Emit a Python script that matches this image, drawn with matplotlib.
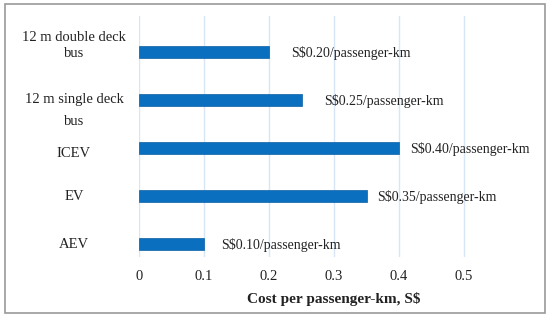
import matplotlib
matplotlib.use("Agg")
import matplotlib.pyplot as plt
from matplotlib.patches import Rectangle

categories = ["AEV", "EV", "ICEV", "12 m single deck\nbus", "12 m double deck\nbus"]
values = [0.10, 0.35, 0.40, 0.25, 0.20]
labels = ["S$0.10/passenger-km", "S$0.35/passenger-km", "S$0.40/passenger-km",
          "S$0.25/passenger-km", "S$0.20/passenger-km"]
label_offsets = [0.026, 0.017, 0.017, 0.035, 0.034]
xticks = [0, 0.1, 0.2, 0.3, 0.4, 0.5]
xtick_labels = ["0", "0.1", "0.2", "0.3", "0.4", "0.5"]

# vertical placement (in category units) of each line of the category labels
cat_line_offsets = [[-0.02], [-0.02], [-0.12], [0.02, -0.44], [0.31, -0.04]]

plt.rcParams['font.family'] = ['Liberation Serif', 'DejaVu Serif']

fig = plt.figure(figsize=(5.5, 3.19), dpi=100)
W, H = 550, 319
ax = fig.add_axes([139 / W, 1 - 257 / H, (529 - 139) / W, (257 - 16) / H])

y = list(range(len(categories)))
ax.barh(y, values, height=0.25, color="#0b6fbf", edgecolor="#0a5fa6", linewidth=0.5, zorder=3)
for yi, v, lab, off in zip(y, values, labels, label_offsets):
    ax.text(v + off, yi - 0.03, lab, va="center", ha="left", fontsize=10, color="#222222")

ax.set_xlim(0, 0.6)
ax.set_ylim(-0.27, 4.75)
ax.set_xticks(xticks)
ax.set_xticklabels(xtick_labels, fontsize=10.5, color="#222222")
ax.set_yticks(y)
ax.set_yticklabels([])
for yi, c, offs in zip(y, categories, cat_line_offsets):
    for line, o in zip(c.split("\n"), offs):
        ax.text(-0.1, yi + o, line, ha="center", va="center", fontsize=10.5,
                color="#222222", clip_on=False)
ax.tick_params(axis="both", length=0, pad=9)
for s in ax.spines.values():
    s.set_visible(False)
for xv in xticks:
    ax.axvline(xv, color="#d6e6f7", linewidth=1.0, zorder=1)
ax.set_xlabel("Cost per passenger-km, S$", fontsize=11, fontweight="bold", labelpad=7, color="#222222")

fig.patches.append(Rectangle((5 / W, 1 - 313 / H), (545 - 5) / W, (313 - 4) / H,
                             transform=fig.transFigure, fill=False, edgecolor="#999999",
                             linewidth=1.2))
fig.savefig("out.png", dpi=100)
